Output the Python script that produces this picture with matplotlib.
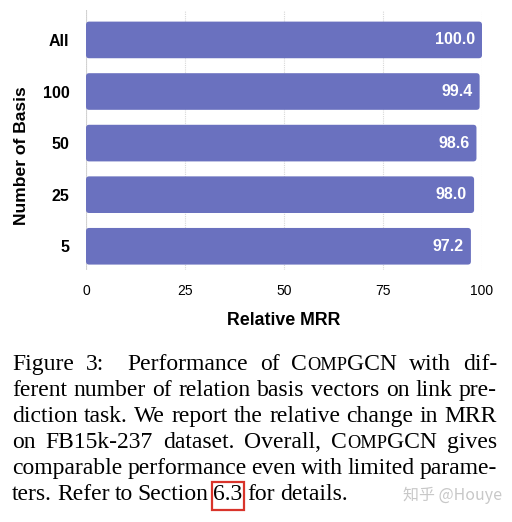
import matplotlib
matplotlib.use("Agg")
import matplotlib.pyplot as plt
from matplotlib.patches import Rectangle, FancyBboxPatch

# data
categories = ["All", "100", "50", "25", "5"]
values = [100.0, 99.4, 98.6, 98.0, 97.2]
xticks = [0, 25, 50, 75, 100]

caption = [
    ["Figure", "3:", "", "Performance", "of", "#COMPGCN", "with", "dif-"],
    ["ferent", "number", "of", "relation", "basis", "vectors", "on", "link", "pre-"],
    ["diction", "task.", "We", "report", "the", "relative", "change", "in", "MRR"],
    ["on", "FB15k-237", "dataset.", "Overall,", "#COMPGCN", "gives"],
    ["comparable", "performance", "even", "with", "limited", "parame-"],
    ["ters.", "Refer", "to", "Section", "6.3", "for", "details."],
]

W, H = 512, 522
fig = plt.figure(figsize=(W / 100, H / 100), dpi=100)
ax = fig.add_axes([86 / W, 1 - 270 / H, 396 / W, 260 / H])

bar_color = "#6a71bf"
ypos = list(range(len(categories)))
bars = ax.barh(ypos, values, height=0.71, color=bar_color, zorder=2)
# rounded bar ends
for b in bars:
    b.set_visible(False)
    ax.add_patch(FancyBboxPatch((b.get_x(), b.get_y()), b.get_width(), b.get_height(),
                                boxstyle="round,pad=0,rounding_size=0.8",
                                mutation_aspect=0.077, facecolor=bar_color,
                                edgecolor="none", zorder=2))
for y, v in zip(ypos, values):
    ax.text(v - 1.8, y, f"{v:.1f}", color="white", ha="right", va="center",
            fontsize=11.5, fontweight="bold", family="Liberation Sans", zorder=3)

ax.set_xlim(0, 100)
ax.set_ylim(4.46, -0.58)
ax.set_yticks(ypos)
ax.set_yticklabels(categories, fontsize=11.5, fontweight="bold", family="Liberation Sans")
ax.set_xticks(xticks)
ax.set_xticklabels([str(t) for t in xticks], fontsize=10, family="Liberation Sans")
ax.tick_params(length=0, pad=10)
ax.tick_params(axis="y", pad=12)
ax.grid(axis="x", color="#d8d8d8", linestyle=(0, (1, 1)), linewidth=0.8, zorder=0)
for s in ax.spines.values():
    s.set_visible(False)
ax.axvline(0, color="#cfcfcf", linewidth=0.8, zorder=1)
ax.set_xlabel("Relative MRR", fontsize=12.8, fontweight="bold", family="Liberation Sans", labelpad=10)
ax.set_ylabel("Number of Basis", fontsize=12.6, fontweight="bold", family="Liberation Sans",
              va="center")
ax.yaxis.set_label_coords(-0.162, 0.44)

# caption, justified word by word
fig.canvas.draw()
rend = fig.canvas.get_renderer()
fs = 17
left, right = 12, 497
baselines = [370, 396, 422, 448, 474, 500]


def make_word(word):
    if word.startswith("#"):
        w = word[1:]
        return [(w[0], fs), (w[1:4], fs * 0.78), (w[4:], fs)]
    return [(word, fs)]


for i, (line, yb) in enumerate(zip(caption, baselines)):
    words = []
    for word in line:
        objs = []
        for txt, size in make_word(word):
            t = fig.text(0, 1 - yb / H, txt, fontsize=size, family="Liberation Serif",
                         va="baseline", ha="left")
            objs.append(t)
        widths = [o.get_window_extent(rend).width if o.get_text() else 0 for o in objs]
        words.append((word, objs, widths))
    total = sum(sum(w[2]) for w in words)
    gaps = len(words) - 1
    if i < len(caption) - 1:
        gap = max((right - left - total) / gaps, 2)
    else:
        gap = 5
    x = left
    for word, objs, widths in words:
        x0 = x
        for o, w in zip(objs, widths):
            o.set_x(x / W)
            x += w
        if word == "6.3":
            fig.patches.append(Rectangle(((x0 - 1.5) / W, 1 - 510 / H), (x - x0 + 3) / W, 28 / H,
                                         transform=fig.transFigure, fill=False,
                                         edgecolor="#d9342b", linewidth=1.6))
        x += gap

fig.text(403 / W, 1 - 500 / H, "知乎 @Houye", fontsize=11.5, color="#c8c8c8",
         family=["Noto Sans CJK SC", "DejaVu Sans"], va="baseline", ha="left")

fig.savefig("out.png", dpi=100)
